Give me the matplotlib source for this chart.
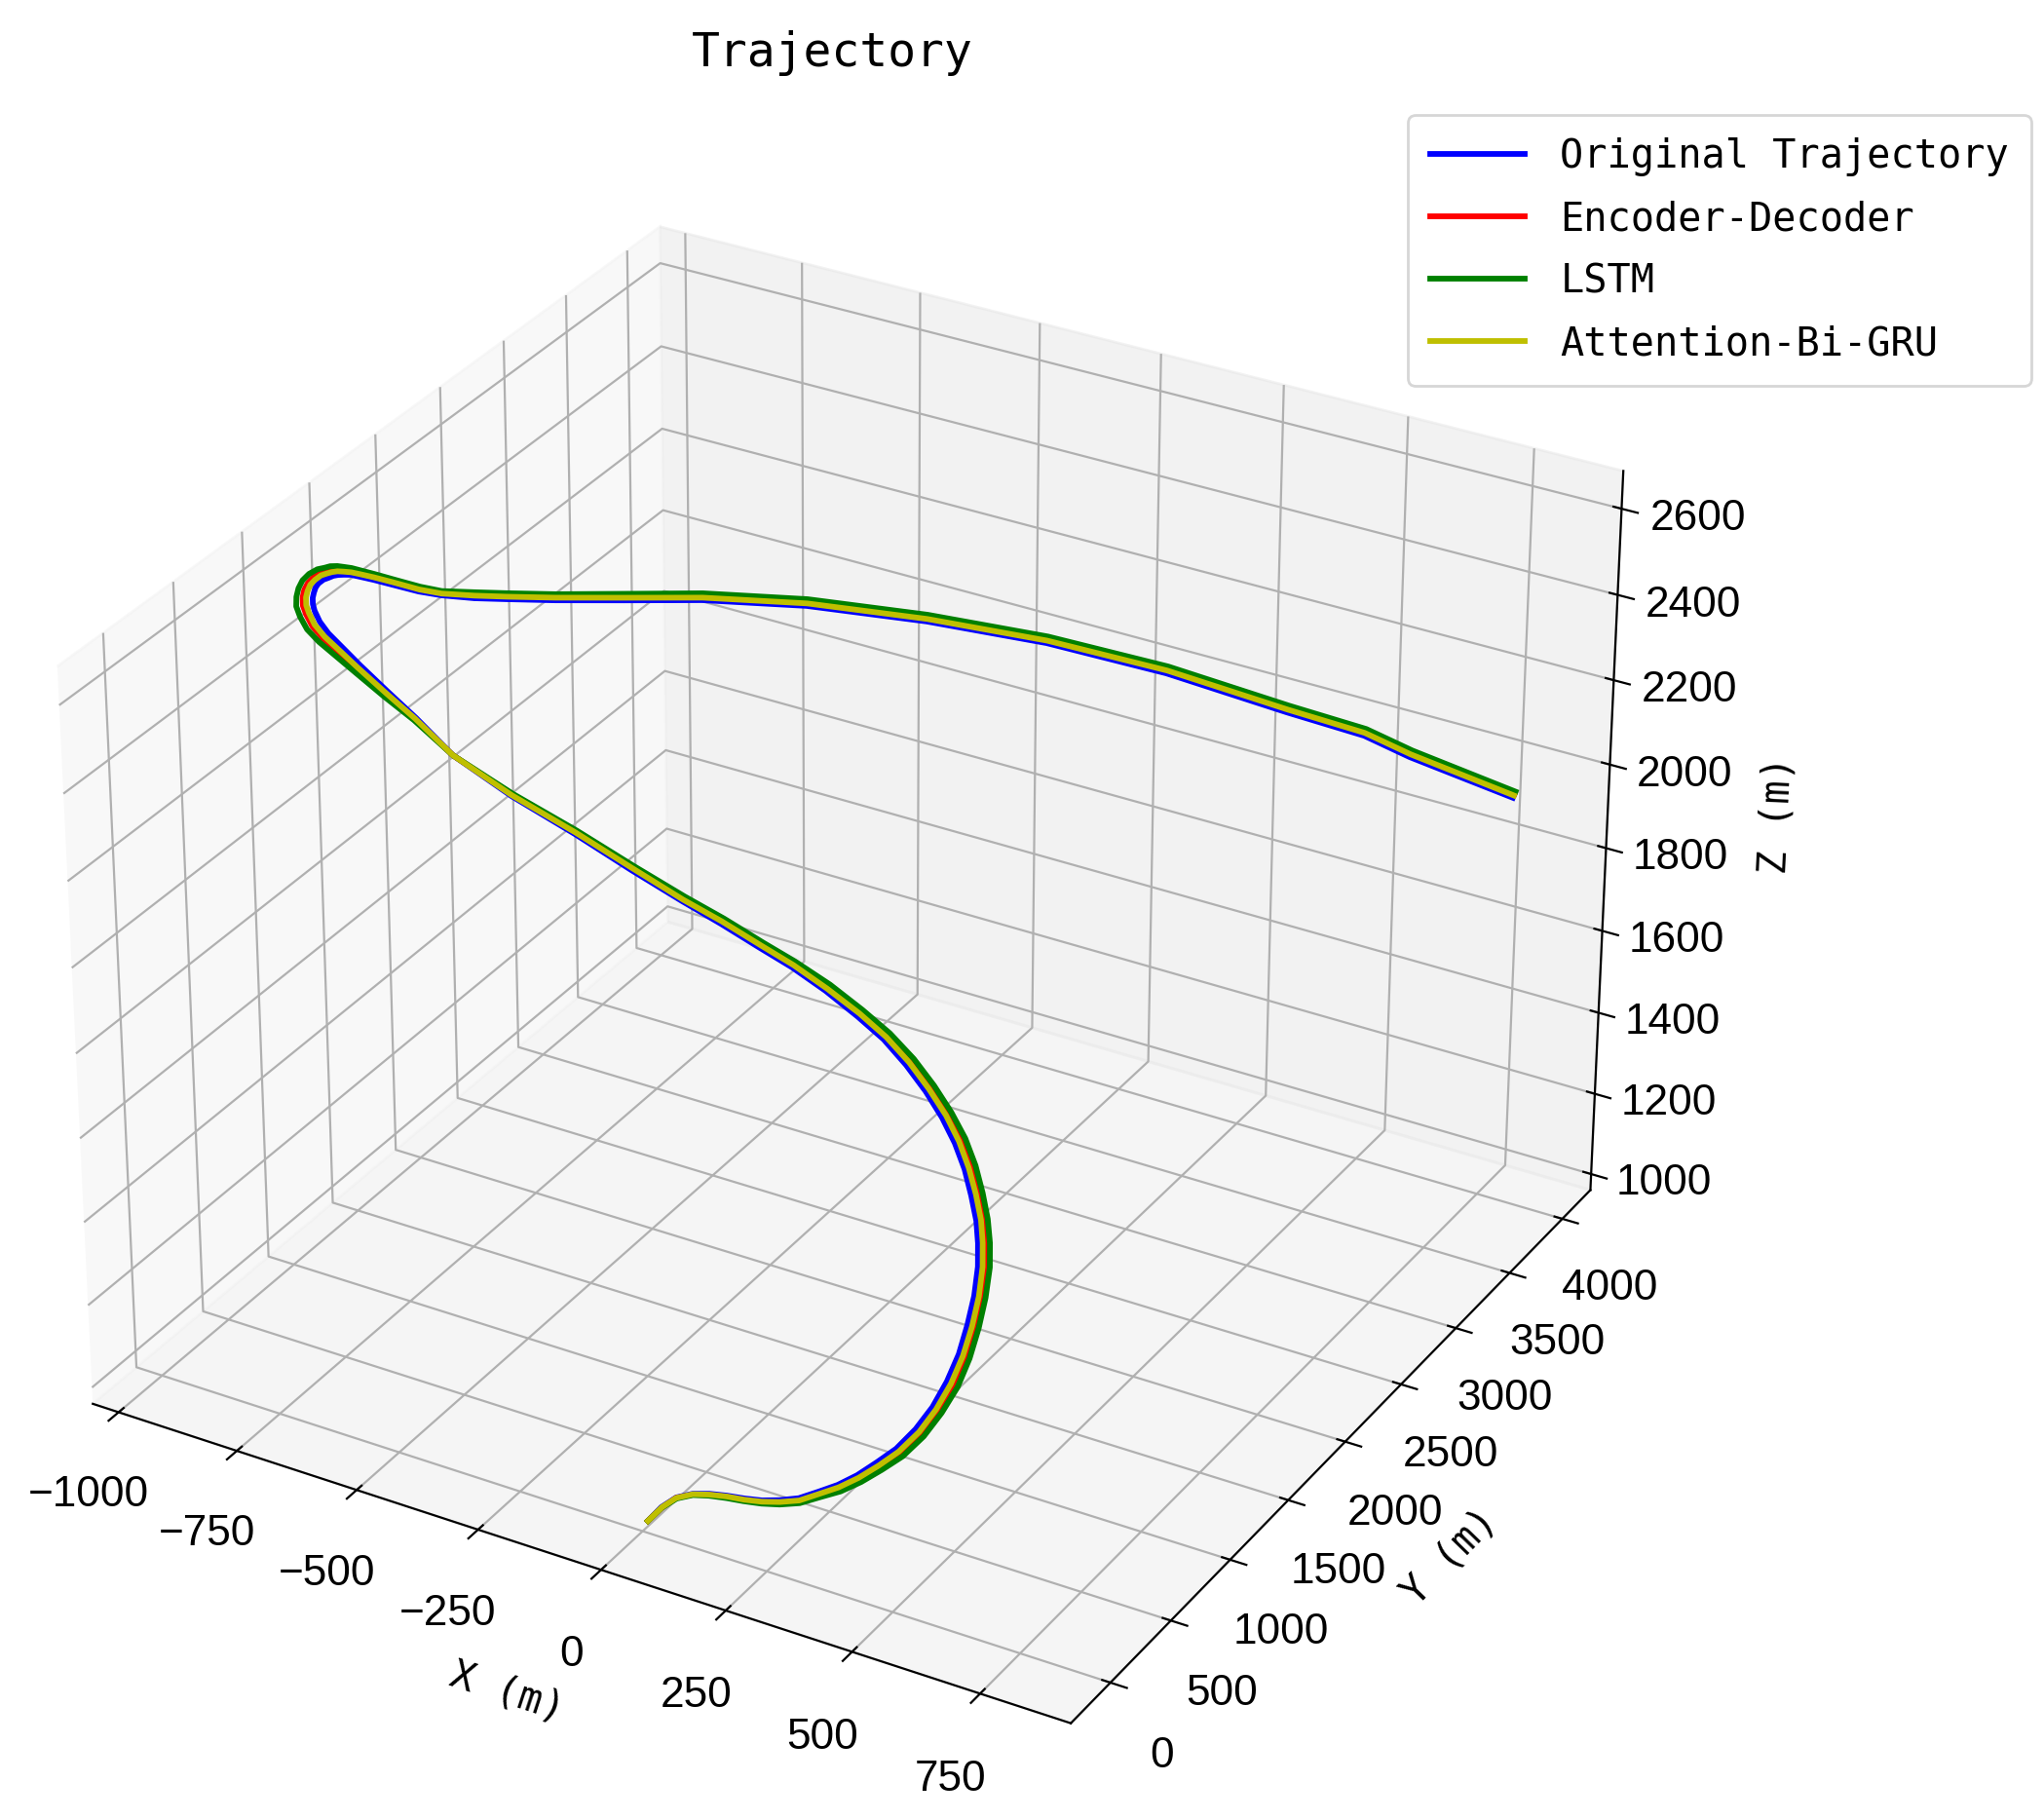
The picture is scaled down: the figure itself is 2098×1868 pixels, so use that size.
import numpy as np
import matplotlib
matplotlib.use('Agg')
import matplotlib.pyplot as plt

# trajectory samples (metres)
y_pos = [0, 10, 30, 40, 50, 60, 80, 90, 100, 120, 130, 150, 160, 180, 200, 220, 240, 260, 280, 310,
         330, 350, 370, 380, 400, 420, 440, 460, 490, 510, 540, 560, 590, 620, 650, 680, 720, 760, 810, 860,
         920, 950, 980, 1010, 1030, 1040, 1050, 1060, 1070, 1070, 1080, 1080, 1080, 1090, 1090, 1100, 1100, 1110, 1130, 1150,
         1180, 1230, 1300, 1350, 1430, 1510, 1620, 1790, 1980, 2220, 2510, 2800, 3100, 3400, 3590, 3710, 3980]

x_orig = [11, 36, 61, 92, 123, 155, 185, 218, 250, 284, 321, 354, 390, 424, 457, 490, 518, 541, 559, 568,
          576, 578, 573, 567, 552, 534, 510, 480, 441, 398, 347, 291, 221, 148, 77, -7, -95, -206, -332, -473,
          -608, -690, -756, -820, -861, -893, -913, -926, -932, -932, -932, -928, -922, -914, -904, -896, -886, -877, -868, -854,
          -836, -810, -776, -743, -697, -653, -582, -487, -376, -225, -54, 118, 289, 465, 578, 644, 795]
z_orig = [989, 1029, 1056, 1074, 1083, 1088, 1087, 1092, 1102, 1114, 1141, 1164, 1198, 1236, 1275, 1328, 1385, 1448, 1513, 1576,
          1641, 1704, 1751, 1798, 1845, 1894, 1940, 1983, 2021, 2061, 2094, 2122, 2149, 2170, 2183, 2202, 2215, 2239, 2268, 2297,
          2333, 2385, 2418, 2451, 2474, 2495, 2513, 2532, 2543, 2557, 2567, 2580, 2591, 2600, 2607, 2612, 2617, 2618, 2616, 2611,
          2603, 2588, 2567, 2557, 2546, 2539, 2533, 2523, 2514, 2492, 2442, 2378, 2291, 2184, 2120, 2062, 1949]

x_ed = [11, 37, 61, 92, 122, 155, 185, 218, 251, 286, 323, 357, 395, 430, 465, 500, 529, 553, 572, 581,
        589, 592, 587, 580, 565, 547, 522, 491, 451, 407, 354, 297, 226, 153, 81, -4, -91, -203, -330, -471,
        -608, -693, -761, -827, -870, -905, -929, -944, -953, -953, -952, -944, -933, -921, -908, -899, -887, -876, -867, -852,
        -834, -808, -774, -742, -696, -652, -582, -487, -375, -224, -53, 119, 291, 467, 580, 647, 798]
z_ed = [989, 1028, 1055, 1072, 1080, 1085, 1083, 1087, 1096, 1107, 1134, 1157, 1191, 1227, 1267, 1322, 1381, 1445, 1512, 1577,
        1643, 1708, 1757, 1805, 1854, 1903, 1951, 1994, 2032, 2073, 2104, 2133, 2159, 2179, 2191, 2211, 2222, 2246, 2273, 2301,
        2333, 2381, 2410, 2440, 2460, 2480, 2498, 2518, 2533, 2552, 2567, 2585, 2601, 2612, 2620, 2624, 2629, 2629, 2625, 2620,
        2611, 2596, 2574, 2563, 2554, 2547, 2541, 2532, 2524, 2501, 2451, 2388, 2301, 2194, 2130, 2072, 1959]

x_lstm = [11, 37, 62, 92, 122, 155, 184, 217, 251, 286, 324, 360, 398, 434, 470, 506, 536, 562, 580, 590,
          598, 601, 596, 589, 574, 555, 530, 498, 457, 413, 359, 301, 230, 155, 84, -1, -89, -201, -328, -470,
          -608, -695, -765, -833, -877, -913, -940, -957, -967, -966, -964, -955, -941, -926, -911, -902, -887, -876, -866, -851,
          -833, -807, -773, -742, -696, -652, -582, -487, -375, -223, -52, 121, 293, 468, 582, 649, 800]
z_lstm = [989, 1028, 1054, 1071, 1078, 1082, 1080, 1084, 1092, 1103, 1129, 1151, 1185, 1222, 1262, 1317, 1378, 1443, 1511, 1577,
          1645, 1711, 1760, 1810, 1859, 1910, 1958, 2001, 2040, 2080, 2112, 2140, 2166, 2185, 2197, 2216, 2227, 2250, 2277, 2303,
          2333, 2379, 2405, 2433, 2451, 2469, 2487, 2509, 2527, 2549, 2567, 2588, 2607, 2620, 2628, 2632, 2637, 2636, 2632, 2626,
          2617, 2601, 2579, 2567, 2560, 2553, 2547, 2538, 2530, 2508, 2458, 2394, 2308, 2201, 2137, 2079, 1965]

x_att = [11, 37, 61, 92, 123, 155, 185, 218, 251, 285, 322, 356, 393, 428, 462, 497, 525, 549, 567, 577,
         585, 587, 582, 576, 561, 542, 518, 488, 447, 404, 352, 295, 224, 151, 80, -5, -93, -204, -331, -472,
         -608, -692, -759, -825, -867, -901, -924, -938, -946, -946, -945, -939, -929, -919, -907, -898, -887, -877, -867, -853,
         -835, -809, -775, -743, -697, -652, -582, -487, -375, -224, -53, 119, 291, 466, 579, 646, 797]
z_att = [989, 1029, 1055, 1073, 1081, 1086, 1084, 1089, 1098, 1109, 1136, 1159, 1193, 1230, 1270, 1324, 1382, 1446, 1512, 1576,
         1643, 1707, 1755, 1803, 1851, 1900, 1947, 1990, 2029, 2069, 2101, 2130, 2155, 2176, 2189, 2208, 2219, 2244, 2272, 2299,
         2333, 2383, 2413, 2444, 2465, 2485, 2503, 2523, 2536, 2554, 2567, 2583, 2597, 2608, 2616, 2620, 2625, 2625, 2622, 2617,
         2609, 2594, 2572, 2561, 2552, 2545, 2539, 2529, 2520, 2498, 2448, 2384, 2298, 2191, 2127, 2069, 1955]

series = [
    ('Original Trajectory', x_orig, z_orig, 'b'),
    ('Encoder-Decoder', x_ed, z_ed, 'r'),
    ('LSTM', x_lstm, z_lstm, 'g'),
    ('Attention-Bi-GRU', x_att, z_att, 'y'),
]

x_ticks = [-1000, -750, -500, -250, 0, 250, 500, 750]
y_ticks = [0, 500, 1000, 1500, 2000, 2500, 3000, 3500, 4000]
z_ticks = [1000, 1200, 1400, 1600, 1800, 2000, 2200, 2400, 2600]

W, H, DPI = 2098, 1868, 200
plt.rcParams['font.family'] = 'Liberation Sans'
mono = 'DejaVu Sans Mono'

fig = plt.figure(figsize=(W / DPI, H / DPI), dpi=DPI)
rect = [-0.01892, -0.00721, 0.85182, 0.95670]
ax = fig.add_axes(rect, projection='3d')

for label, xs, zs, c in series:
    ax.plot(xs, y_pos, zs, color=c, lw=2.1, label=label)

ax.set_xlim(-1055, 925)
ax.set_ylim(-322, 4270)
ax.set_zlim(960, 2687)
ax.set_xticks(x_ticks)
ax.set_yticks(y_ticks)
ax.set_zticks(z_ticks)

# 3d titles get scaled by 0.92 internally
ty = (H - 54 - rect[1] * H) / (rect[3] * H) / 0.92
ax.set_title('Trajectory', fontfamily=mono, fontsize=17.3, y=ty, va='center', pad=0)
ax.set_xlabel('X (m)', fontfamily=mono, fontsize=14.5, labelpad=14)
ax.set_ylabel('Y (m)', fontfamily=mono, fontsize=14.5, labelpad=16)
ax.set_zlabel('Z (m)', fontfamily=mono, fontsize=14.5, labelpad=18)
for a in (ax.xaxis, ax.yaxis, ax.zaxis):
    a.set_tick_params(labelsize=15.9, pad=9)

ax.legend(loc='upper right', bbox_to_anchor=(2085 / W, 1 - 118 / H), bbox_transform=fig.transFigure,
          borderaxespad=0, prop={'family': mono, 'size': 14.5}, handlelength=2.4, handletextpad=0.9,
          labelspacing=0.6, borderpad=0.57)

fig.savefig('out.png', dpi=DPI)
